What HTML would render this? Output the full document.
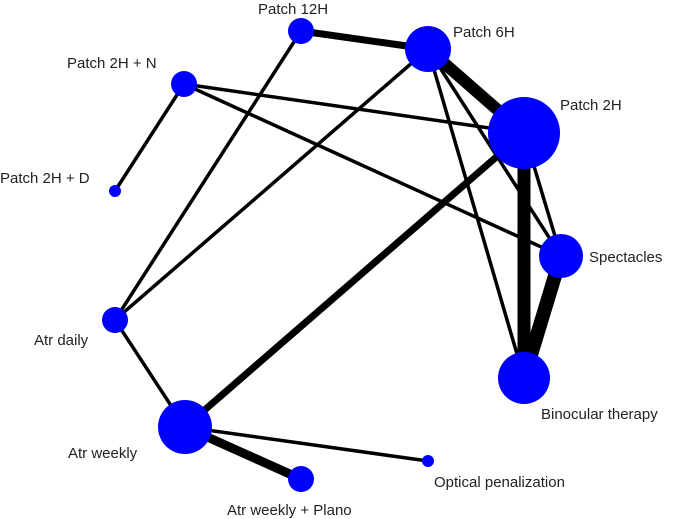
<!DOCTYPE html>
<html><head><style>html,body{margin:0;padding:0;background:#fff;width:685px;height:519px;overflow:hidden}</style></head>
<body>
<svg width="685" height="519" xmlns="http://www.w3.org/2000/svg" style="display:block">
<g stroke="#000" stroke-linecap="butt">
<line x1="301" y1="31" x2="428" y2="49" stroke-width="7"/>
<line x1="301" y1="31" x2="115" y2="320" stroke-width="3.5"/>
<line x1="428" y1="49" x2="524" y2="133" stroke-width="12"/>
<line x1="428" y1="49" x2="115" y2="320" stroke-width="3.5"/>
<line x1="428" y1="49" x2="561" y2="256" stroke-width="3.5"/>
<line x1="428" y1="49" x2="524" y2="378" stroke-width="3.5"/>
<line x1="184" y1="84" x2="115" y2="191" stroke-width="3.5"/>
<line x1="184" y1="84" x2="524" y2="133" stroke-width="3.5"/>
<line x1="184" y1="84" x2="561" y2="256" stroke-width="3.5"/>
<line x1="524" y1="133" x2="185" y2="427" stroke-width="7"/>
<line x1="524" y1="133" x2="524" y2="378" stroke-width="13"/>
<line x1="524" y1="133" x2="561" y2="256" stroke-width="3.5"/>
<line x1="561" y1="256" x2="524" y2="378" stroke-width="14"/>
<line x1="115" y1="320" x2="185" y2="427" stroke-width="3.5"/>
<line x1="185" y1="427" x2="301" y2="479" stroke-width="9"/>
<line x1="185" y1="427" x2="428" y2="461" stroke-width="3.5"/>
</g>
<g fill="#0000ff">
<circle cx="301" cy="31" r="13"/>
<circle cx="428" cy="49" r="23"/>
<circle cx="184" cy="84" r="13"/>
<circle cx="524" cy="133" r="36"/>
<circle cx="115" cy="191" r="6"/>
<circle cx="561" cy="256" r="22"/>
<circle cx="115" cy="320" r="13"/>
<circle cx="524" cy="378" r="26"/>
<circle cx="185" cy="427" r="27"/>
<circle cx="428" cy="461" r="6"/>
<circle cx="301" cy="479" r="13"/>
</g>
<g font-family="Liberation Sans, sans-serif" font-size="15" fill="#222">
<text x="258" y="14">Patch 12H</text>
<text x="453" y="37">Patch 6H</text>
<text x="67" y="68">Patch 2H + N</text>
<text x="560" y="110">Patch 2H</text>
<text x="0" y="183">Patch 2H + D</text>
<text x="589" y="262">Spectacles</text>
<text x="34" y="345">Atr daily</text>
<text x="541" y="419">Binocular therapy</text>
<text x="68" y="458">Atr weekly</text>
<text x="434" y="487">Optical penalization</text>
<text x="227" y="515">Atr weekly + Plano</text>
</g>
</svg>
</body></html>
